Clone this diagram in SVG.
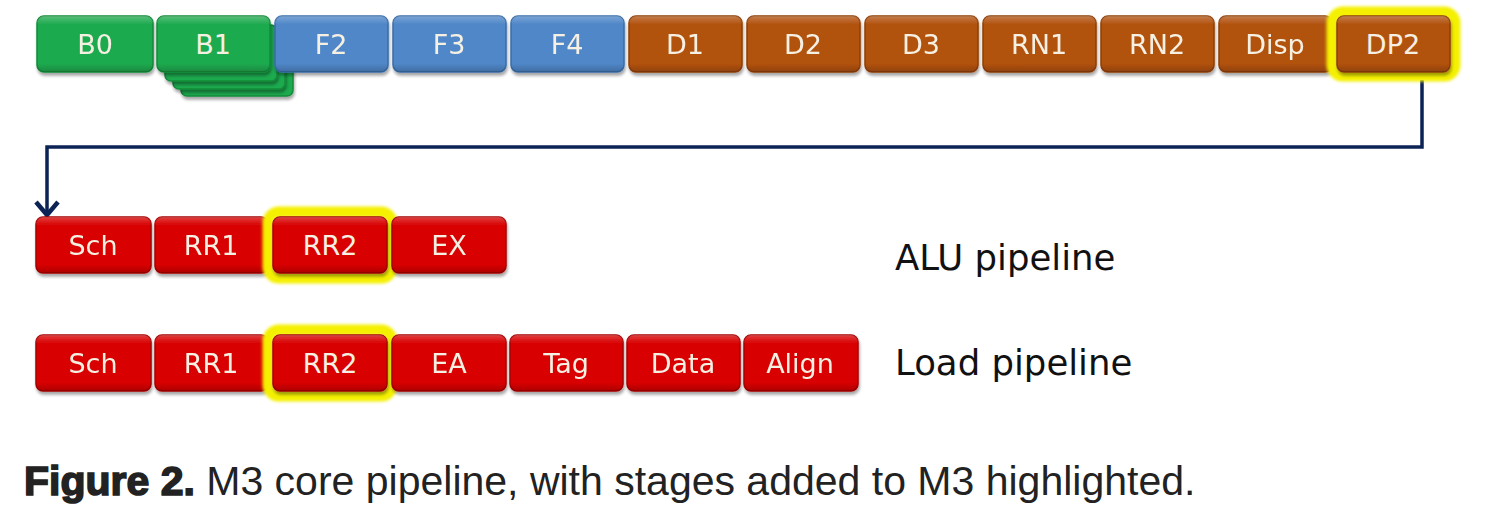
<svg xmlns="http://www.w3.org/2000/svg" width="1485" height="506" viewBox="0 0 1485 506">
<style>
.t{font-family:"DejaVu Sans",Verdana,sans-serif;font-size:27px;fill:#f6f0e2;text-anchor:middle}
.g{fill:#1faa4f;stroke:#148a3a;stroke-width:1.5}
.b{fill:#4f87c8;stroke:#3a6ea8;stroke-width:1.5}
.o{fill:#b2520e;stroke:#8f3f08;stroke-width:1.5}
.r{fill:#d80000;stroke:#a80000;stroke-width:1.5}
.hl{fill:none;stroke:#f4f000;stroke-width:11;filter:url(#glow)}
.lbl{font-family:"DejaVu Sans",Verdana,sans-serif;font-size:35.5px;fill:#111}
</style>
<defs>
<filter id="sh" x="-10%" y="-10%" width="120%" height="140%">
<feDropShadow dx="1" dy="3" stdDeviation="1.5" flood-color="#000" flood-opacity="0.35"/>
</filter>
<filter id="glow" x="-20%" y="-30%" width="140%" height="160%">
<feGaussianBlur stdDeviation="1.6"/>
</filter>
<linearGradient id="hi" x1="0" y1="0" x2="0" y2="1">
<stop offset="0" stop-color="#fff" stop-opacity="0.25"/>
<stop offset="0.15" stop-color="#fff" stop-opacity="0"/>
<stop offset="0.85" stop-color="#000" stop-opacity="0"/>
<stop offset="1" stop-color="#000" stop-opacity="0.2"/>
</linearGradient>
<marker id="arr" viewBox="0 0 20 28" refX="18" refY="14" markerWidth="20" markerHeight="28" markerUnits="userSpaceOnUse" orient="auto">
<path d="M4,3 L17,14 L4,25" fill="none" stroke="#0c2356" stroke-width="4.5" stroke-linejoin="miter"/>
</marker>
</defs>
<rect width="1485" height="506" fill="#fff"/>

<g id="connectors">
<path d="M1422,80 V147 H47 V216" fill="none" stroke="#0c2356" stroke-width="3.5" marker-end="url(#arr)"/>
</g>

<g id="B0" filter="url(#sh)"><rect class="g" x="37" y="16" width="116" height="56" rx="7"/><rect x="37" y="16" width="116" height="56" rx="7" fill="url(#hi)"/><text class="t" x="95" y="54">B0</text></g>
<g id="B1">
<rect class="g" x="181" y="40" width="112" height="56" rx="6" filter="url(#sh)"/>
<rect class="g" x="173" y="33" width="112" height="56" rx="6" filter="url(#sh)"/>
<rect class="g" x="165" y="25" width="112" height="56" rx="6" filter="url(#sh)"/>
<g filter="url(#sh)"><rect class="g" x="157" y="16" width="113" height="56" rx="7"/><rect x="157" y="16" width="113" height="56" rx="7" fill="url(#hi)"/></g>
<text class="t" x="213" y="54">B1</text></g>
<g id="F2" filter="url(#sh)"><rect class="b" x="275" y="16" width="113" height="56" rx="7"/><rect x="275" y="16" width="113" height="56" rx="7" fill="url(#hi)"/><text class="t" x="331" y="54">F2</text></g>
<g id="F3" filter="url(#sh)"><rect class="b" x="393" y="16" width="113" height="56" rx="7"/><rect x="393" y="16" width="113" height="56" rx="7" fill="url(#hi)"/><text class="t" x="449" y="54">F3</text></g>
<g id="F4" filter="url(#sh)"><rect class="b" x="511" y="16" width="113" height="56" rx="7"/><rect x="511" y="16" width="113" height="56" rx="7" fill="url(#hi)"/><text class="t" x="567" y="54">F4</text></g>
<g id="D1" filter="url(#sh)"><rect class="o" x="629" y="16" width="113" height="56" rx="7"/><rect x="629" y="16" width="113" height="56" rx="7" fill="url(#hi)"/><text class="t" x="685" y="54">D1</text></g>
<g id="D2" filter="url(#sh)"><rect class="o" x="747" y="16" width="113" height="56" rx="7"/><rect x="747" y="16" width="113" height="56" rx="7" fill="url(#hi)"/><text class="t" x="803" y="54">D2</text></g>
<g id="D3" filter="url(#sh)"><rect class="o" x="865" y="16" width="113" height="56" rx="7"/><rect x="865" y="16" width="113" height="56" rx="7" fill="url(#hi)"/><text class="t" x="921" y="54">D3</text></g>
<g id="RN1" filter="url(#sh)"><rect class="o" x="983" y="16" width="113" height="56" rx="7"/><rect x="983" y="16" width="113" height="56" rx="7" fill="url(#hi)"/><text class="t" x="1039" y="54">RN1</text></g>
<g id="RN2" filter="url(#sh)"><rect class="o" x="1101" y="16" width="113" height="56" rx="7"/><rect x="1101" y="16" width="113" height="56" rx="7" fill="url(#hi)"/><text class="t" x="1157" y="54">RN2</text></g>
<g id="Disp" filter="url(#sh)"><rect class="o" x="1219" y="16" width="113" height="56" rx="7"/><rect x="1219" y="16" width="113" height="56" rx="7" fill="url(#hi)"/><text class="t" x="1275" y="54">Disp</text></g>
<g id="DP2"><rect class="hl" x="1332" y="12" width="123" height="64" rx="11"/><g filter="url(#sh)"><rect class="o" x="1337" y="16" width="113" height="56" rx="7" stroke="#6a2a00" stroke-width="2.5"/><rect x="1337" y="16" width="113" height="56" rx="7" fill="url(#hi)"/></g><text class="t" x="1393" y="54">DP2</text></g>

<g id="ALU-Sch" filter="url(#sh)"><rect class="r" x="36" y="217" width="115" height="56" rx="7"/><rect x="36" y="217" width="115" height="56" rx="7" fill="url(#hi)"/><text class="t" x="93" y="255">Sch</text></g>
<g id="ALU-RR1" filter="url(#sh)"><rect class="r" x="155" y="217" width="113" height="56" rx="7"/><rect x="155" y="217" width="113" height="56" rx="7" fill="url(#hi)"/><text class="t" x="211" y="255">RR1</text></g>
<g id="ALU-RR2"><rect class="hl" x="268" y="212" width="124" height="66" rx="11"/><g filter="url(#sh)"><rect class="r" x="273" y="217" width="114" height="56" rx="7" stroke="#7a0000" stroke-width="2.5"/><rect x="273" y="217" width="114" height="56" rx="7" fill="url(#hi)"/></g><text class="t" x="330" y="255">RR2</text></g>
<g id="ALU-EX" filter="url(#sh)"><rect class="r" x="392" y="217" width="114" height="56" rx="7"/><rect x="392" y="217" width="114" height="56" rx="7" fill="url(#hi)"/><text class="t" x="449" y="255">EX</text></g>
<text class="lbl" x="895" y="270">ALU pipeline</text>

<g id="LD-Sch" filter="url(#sh)"><rect class="r" x="36" y="335" width="115" height="56" rx="7"/><rect x="36" y="335" width="115" height="56" rx="7" fill="url(#hi)"/><text class="t" x="93" y="373">Sch</text></g>
<g id="LD-RR1" filter="url(#sh)"><rect class="r" x="155" y="335" width="113" height="56" rx="7"/><rect x="155" y="335" width="113" height="56" rx="7" fill="url(#hi)"/><text class="t" x="211" y="373">RR1</text></g>
<g id="LD-RR2"><rect class="hl" x="268" y="330" width="124" height="66" rx="11"/><g filter="url(#sh)"><rect class="r" x="273" y="335" width="114" height="56" rx="7" stroke="#7a0000" stroke-width="2.5"/><rect x="273" y="335" width="114" height="56" rx="7" fill="url(#hi)"/></g><text class="t" x="330" y="373">RR2</text></g>
<g id="LD-EA" filter="url(#sh)"><rect class="r" x="392" y="335" width="114" height="56" rx="7"/><rect x="392" y="335" width="114" height="56" rx="7" fill="url(#hi)"/><text class="t" x="449" y="373">EA</text></g>
<g id="LD-Tag" filter="url(#sh)"><rect class="r" x="510" y="335" width="113" height="56" rx="7"/><rect x="510" y="335" width="113" height="56" rx="7" fill="url(#hi)"/><text class="t" x="566" y="373">Tag</text></g>
<g id="LD-Data" filter="url(#sh)"><rect class="r" x="627" y="335" width="113" height="56" rx="7"/><rect x="627" y="335" width="113" height="56" rx="7" fill="url(#hi)"/><text class="t" x="683" y="373">Data</text></g>
<g id="LD-Align" filter="url(#sh)"><rect class="r" x="744" y="335" width="114" height="56" rx="7"/><rect x="744" y="335" width="114" height="56" rx="7" fill="url(#hi)"/><text class="t" x="800" y="373">Align</text></g>
<text class="lbl" x="895" y="375">Load pipeline</text>

<text x="24" y="495" font-family="Liberation Sans, Arial, sans-serif" font-size="41" fill="#222"><tspan font-weight="bold" stroke="#222" stroke-width="1.6">Figure 2.</tspan><tspan> M3 core pipeline, with stages added to M3 highlighted.</tspan></text>
</svg>
